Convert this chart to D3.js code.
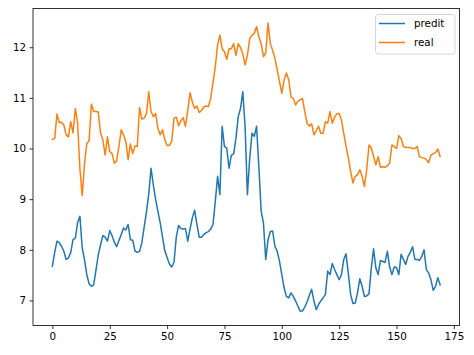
<!DOCTYPE html>
<html><head><meta charset="utf-8">
<script src="https://cdn.jsdelivr.net/npm/d3@7"></script>
<style>body{margin:0;background:#fff}svg{display:block}text{font-family:"DejaVu Sans",sans-serif;}</style>
</head><body><svg id="c" width="474" height="355"></svg>
<script>
const predit = [7.68,7.95,8.17,8.14,8.07,7.97,7.81,7.84,7.95,8.20,8.23,8.54,8.66,8.04,7.80,7.51,7.33,7.28,7.31,7.60,
7.90,8.10,8.28,8.25,8.17,8.38,8.28,8.15,8.06,8.18,8.30,8.43,8.39,8.50,8.20,8.19,7.98,7.95,7.97,8.14,
8.45,8.75,9.10,9.61,9.28,8.99,8.76,8.53,8.25,7.98,7.85,7.72,7.66,7.75,8.25,8.48,8.42,8.41,8.42,8.17,
8.41,8.63,8.78,8.50,8.25,8.25,8.30,8.34,8.36,8.41,8.50,8.95,9.45,9.09,10.44,10.04,10.01,9.61,9.87,9.89,
10.20,10.63,10.79,11.12,10.43,9.09,9.80,10.30,10.24,10.44,9.64,8.76,8.53,7.81,8.20,8.36,8.37,8.07,7.97,7.77,
7.51,7.25,7.08,7.05,7.15,7.08,6.99,6.89,6.79,6.79,6.87,6.97,7.10,7.22,6.99,6.82,6.92,6.99,7.05,7.12,
7.58,7.51,7.73,7.61,7.51,7.41,7.51,7.81,7.92,7.53,7.12,6.94,6.95,7.15,7.43,7.28,7.08,7.09,7.13,7.64,
8.02,7.64,7.51,7.79,7.77,7.75,7.97,7.66,7.51,7.66,7.65,7.51,7.91,7.81,7.71,7.87,7.95,8.06,7.81,7.81,
7.79,7.87,8.00,7.61,7.54,7.41,7.20,7.28,7.45,7.31];
const real = [10.18,10.20,10.68,10.51,10.52,10.46,10.27,10.23,10.53,10.31,10.79,10.50,9.60,9.07,9.70,10.10,10.15,10.88,10.73,10.73,
10.72,10.30,10.17,9.87,10.23,9.94,9.90,9.71,9.76,10.04,10.37,10.27,10.14,9.78,10.09,9.90,10.05,10.04,10.81,10.58,
10.60,10.69,11.12,10.73,10.63,10.69,10.40,10.27,10.37,10.17,10.06,10.06,10.14,10.60,10.62,10.45,10.55,10.61,10.44,10.75,
11.10,10.92,10.79,10.84,10.71,10.75,10.82,10.84,10.83,10.99,11.30,11.61,12.04,12.24,11.97,11.91,11.76,11.97,11.97,12.07,
11.84,12.07,11.99,11.87,11.65,11.84,12.17,12.24,12.27,12.41,12.20,12.07,11.81,11.89,12.48,12.07,11.94,11.78,11.55,11.32,
11.09,11.36,11.49,11.36,11.02,10.99,10.86,10.93,10.96,10.99,10.73,10.50,10.44,10.49,10.27,10.35,10.44,10.30,10.30,10.53,
10.50,10.73,10.50,10.62,10.69,10.69,10.56,10.30,10.04,9.81,9.55,9.32,9.45,9.48,9.58,9.45,9.25,9.58,10.07,10.01,
9.84,9.68,9.84,9.63,9.64,9.63,9.66,9.71,10.07,10.04,10.00,10.25,10.20,10.04,10.02,10.02,10.02,10.00,10.00,10.04,
9.84,9.82,9.81,9.78,9.72,9.87,9.90,9.92,9.99,9.84];
const xTicks = [0,25,50,75,100,125,150,175];
const yTicks = [7,8,9,10,11,12];
const seriesNames = ["predit","real"];
const colors = ["#1f77b4","#ff7f0e"];

const svg = d3.select("#c");
const L=33, R=459.5, T=8.5, B=325.5;
const n = predit.length;
const x = d3.scaleLinear().domain([-(n-1)*0.05,(n-1)*1.05]).range([L,R]);
const allv = predit.concat(real);
const lo = d3.min(allv), hi = d3.max(allv), pad=(hi-lo)*0.05;
const y = d3.scaleLinear().domain([lo-pad,hi+pad]).range([B,T]);

const line = d3.line().x((d,i)=>x(i)).y(d=>y(d));
[predit, real].forEach((s,k)=>{
  svg.append("path").attr("d",line(s)).attr("fill","none").attr("stroke",colors[k])
    .attr("stroke-width",1.5).attr("stroke-linejoin","round").attr("stroke-linecap","square");
});

const xa = svg.append("g").attr("transform",`translate(0,${B})`)
  .call(d3.axisBottom(x).tickValues(xTicks).tickSize(3.5).tickPadding(3.5).tickFormat(d3.format("d")));
const ya = svg.append("g").attr("transform",`translate(${L},0)`)
  .call(d3.axisLeft(y).tickValues(yTicks).tickSize(3.5).tickPadding(3.5).tickFormat(d3.format("d")));
[xa,ya].forEach(a=>{
  a.select(".domain").remove();
  a.selectAll("line").attr("stroke","#000").attr("stroke-width",0.8);
  a.selectAll("text").attr("font-size","10.3px").attr("fill","#000").attr("font-family","DejaVu Sans");
});
svg.append("rect").attr("x",L).attr("y",T).attr("width",R-L).attr("height",B-T)
  .attr("fill","none").attr("stroke","#000").attr("stroke-width",0.8);

// legend
const lg = svg.append("g");
lg.append("rect").attr("x",375.5).attr("y",14.5).attr("width",79.5).attr("height",39.5).attr("rx",2.5)
  .attr("fill","#fff").attr("fill-opacity",0.8).attr("stroke","#ccc").attr("stroke-width",0.8);
seriesNames.forEach((nm,k)=>{
  const yy = 23.5 + k*19;
  lg.append("line").attr("x1",379).attr("x2",405).attr("y1",yy).attr("y2",yy)
    .attr("stroke",colors[k]).attr("stroke-width",1.5);
  lg.append("text").attr("x",414).attr("y",yy).attr("dy","0.35em").attr("font-size","10.3px").text(nm);
});
</script></body></html>
